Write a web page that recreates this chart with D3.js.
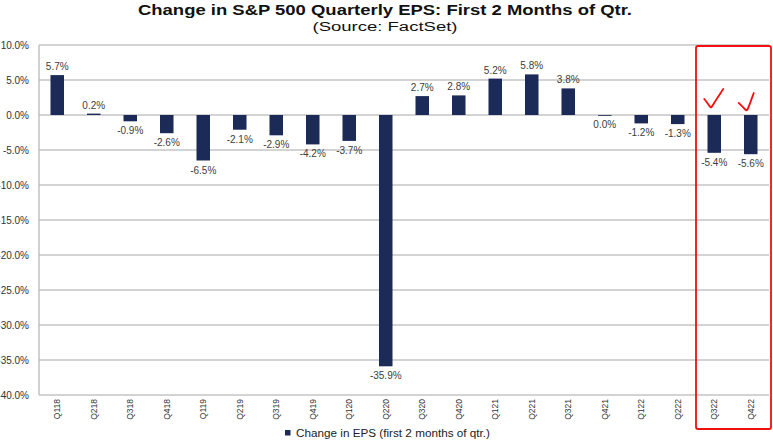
<!DOCTYPE html>
<html>
<head>
<meta charset="utf-8">
<script src="https://cdn.jsdelivr.net/npm/d3@7"></script>
<style>
  body { margin: 0; background: #fff; }
  svg { display: block; font-family: "Liberation Sans", Arial, sans-serif; }
</style>
</head>
<body>
<svg id="chart" width="773" height="442"></svg>
<script>
// quarters shown on the x axis
var quarters = ['Q118', 'Q218', 'Q318', 'Q418', 'Q119', 'Q219', 'Q319', 'Q419', 'Q120', 'Q220',
    'Q320', 'Q420', 'Q121', 'Q221', 'Q321', 'Q421', 'Q122', 'Q222', 'Q322', 'Q422'];
// change in EPS during first 2 months of the quarter (%)
var epsChange = [5.7, 0.2, -0.9, -2.6, -6.5, -2.1, -2.9, -4.2, -3.7, -35.9,
    2.7, 2.8, 5.2, 5.8, 3.8, 0.0, -1.2, -1.3, -5.4, -5.6];
var yTicks = [10, 5, 0, -5, -10, -15, -20, -25, -30, -35, -40];
var highlighted = ['Q322', 'Q422'];

var svg = d3.select('#chart');
var plotLeft = 39, plotRight = 769, plotTop = 45, plotBottom = 395;

var x = d3.scaleBand().domain(quarters).range([plotLeft, plotRight]).padding(0);
var y = d3.scaleLinear().domain([-40, 10]).range([plotBottom, plotTop]);
var barW = x.bandwidth() * 0.37;
var fmt = function(v) { return v.toFixed(1) + '%'; };

// gridlines
svg.append('g').selectAll('line').data(yTicks).enter().append('line')
    .attr('x1', plotLeft).attr('x2', plotRight)
    .attr('y1', function(d) { return y(d); })
    .attr('y2', function(d) { return y(d); })
    .attr('stroke', '#c4c4c4').attr('stroke-width', 1.3);

// left axis line
svg.append('line')
    .attr('x1', plotLeft).attr('x2', plotLeft).attr('y1', y(10)).attr('y2', y(-40))
    .attr('stroke', '#b8b8b8').attr('stroke-width', 1.3);

// y axis labels
var yAxis = d3.axisLeft(y).tickValues(yTicks).tickSize(0).tickPadding(10).tickFormat(fmt);
var yg = svg.append('g').attr('transform', 'translate(' + plotLeft + ',0)').call(yAxis);
yg.select('.domain').remove();
yg.selectAll('text').attr('font-size', 10).attr('fill', '#333')
    .attr('font-family', '"Liberation Sans", Arial, sans-serif');

// bars
svg.append('g').selectAll('rect').data(epsChange).enter().append('rect')
    .attr('x', function(d, i) { return x(quarters[i]) + x.bandwidth() / 2 - barW / 2; })
    .attr('y', function(d) { return y(Math.max(0, d)); })
    .attr('width', barW)
    .attr('height', function(d) { return Math.max(0.8, Math.abs(y(d) - y(0))); })
    .attr('fill', '#1b2a56');

// data labels
svg.append('g').selectAll('text').data(epsChange).enter().append('text')
    .attr('x', function(d, i) { return x(quarters[i]) + x.bandwidth() / 2; })
    .attr('y', function(d) { return d > 0 ? y(d) - 5 : y(Math.min(0, d)) + 13; })
    .attr('text-anchor', 'middle')
    .attr('font-size', 10).attr('fill', '#404040')
    .text(fmt);

// x axis labels (rotated)
var xAxis = d3.axisBottom(x).tickSize(0).tickPadding(0);
var xg = svg.append('g').attr('transform', 'translate(0,' + plotBottom + ')').call(xAxis);
xg.select('.domain').remove();
xg.selectAll('text')
    .attr('font-size', 8.5).attr('fill', '#333')
    .attr('font-family', '"Liberation Sans", Arial, sans-serif')
    .attr('text-anchor', 'end')
    .attr('dy', '0.35em')
    .attr('transform', 'translate(0,4) rotate(-90)')
    .attr('x', 0).attr('y', 0);

// title
svg.append('text').attr('x', 385).attr('y', 15).attr('text-anchor', 'middle')
    .attr('font-size', 14).attr('font-weight', 'bold').attr('fill', '#111')
    .attr('textLength', 494).attr('lengthAdjust', 'spacingAndGlyphs')
    .text('Change in S&P 500 Quarterly EPS: First 2 Months of Qtr.');
svg.append('text').attr('x', 385).attr('y', 31).attr('text-anchor', 'middle')
    .attr('font-size', 12.5).attr('fill', '#111')
    .attr('textLength', 145).attr('lengthAdjust', 'spacingAndGlyphs')
    .text('(Source: FactSet)');

// legend
svg.append('rect').attr('x', 285).attr('y', 430).attr('width', 5.5).attr('height', 5.5)
    .attr('fill', '#1b2a56');
svg.append('text').attr('x', 296).attr('y', 436.5)
    .attr('font-size', 10).attr('fill', '#222')
    .attr('textLength', 194).attr('lengthAdjust', 'spacingAndGlyphs')
    .text('Change in EPS (first 2 months of qtr.)');

// red highlight box around the last two quarters
var bx0 = x(highlighted[0]), bx1 = x(highlighted[1]) + x.bandwidth();
svg.append('rect')
    .attr('x', bx0).attr('y', y(10) + 1)
    .attr('width', bx1 - bx0 + 2).attr('height', 429 - y(10) - 1)
    .attr('rx', 2)
    .attr('fill', 'none').attr('stroke', '#f01010').attr('stroke-width', 1.8);

// hand drawn check marks above the highlighted bars
highlighted.forEach(function(q, i) {
    var cx = x(q) + x.bandwidth() / 2, cy = y(0);
    var pts = i === 0 ? [[-10, -16], [-3, -7], [9, -26]] : [[-12, -12], [-4, -4], [3, -22]];
    svg.append('path')
        .attr('d', d3.line().curve(d3.curveBasis)([
            [cx + pts[0][0], cy + pts[0][1]],
            [cx + pts[1][0] - 1, cy + pts[1][1] - 1],
            [cx + pts[1][0], cy + pts[1][1]],
            [cx + pts[1][0] + 2, cy + pts[1][1] - 4],
            [cx + pts[2][0], cy + pts[2][1]]
        ]))
        .attr('fill', 'none').attr('stroke', '#f01010').attr('stroke-width', 1.8)
        .attr('stroke-linecap', 'round');
});
</script>
</body>
</html>
